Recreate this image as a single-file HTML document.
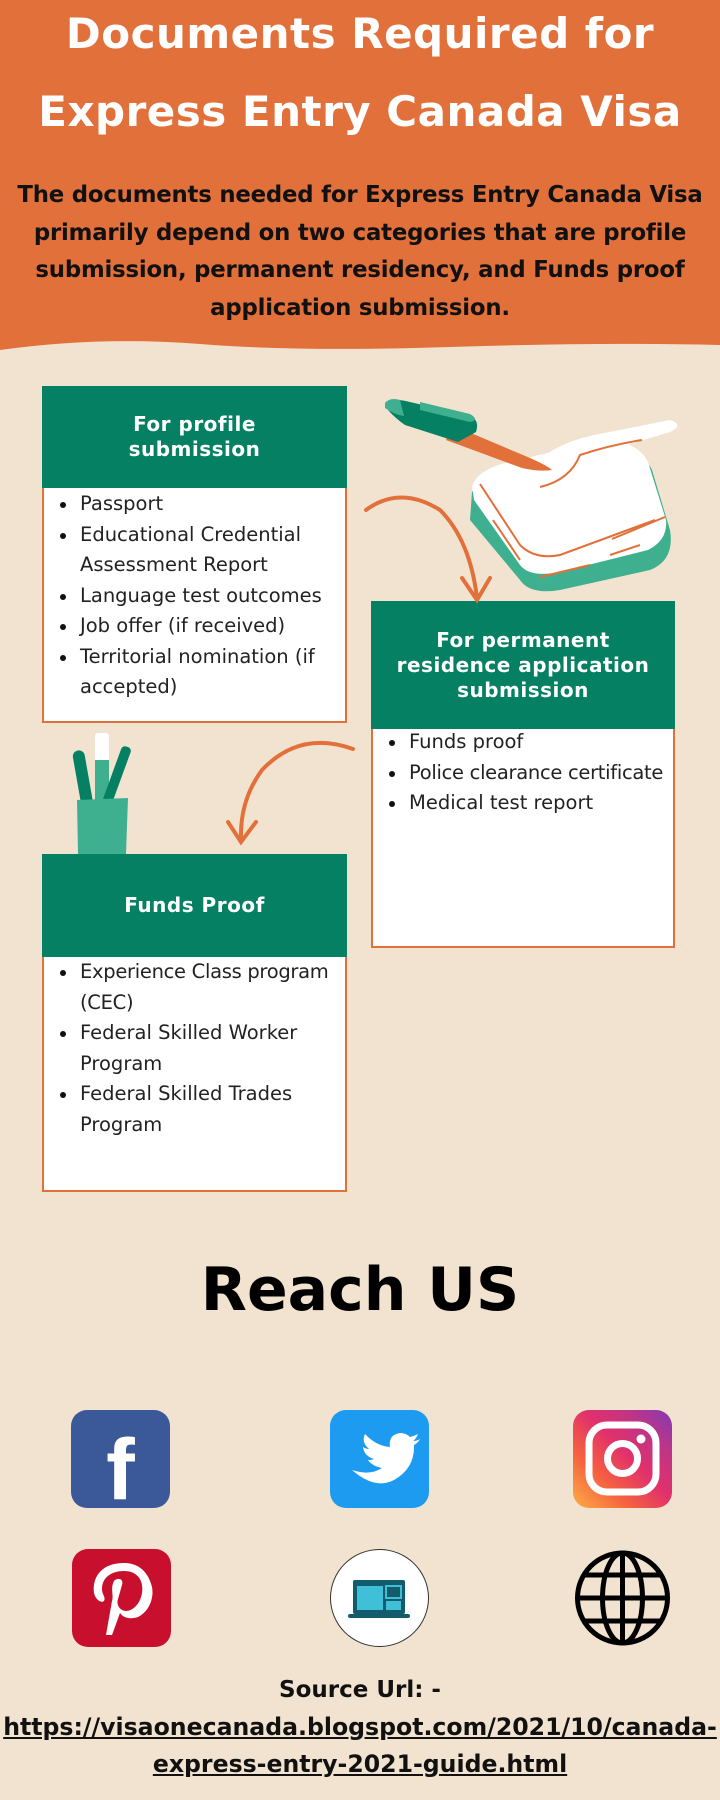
<!DOCTYPE html>
<html><head><meta charset="utf-8"><style>
*{margin:0;padding:0;box-sizing:border-box}
body{width:720px;height:1800px;background:#f1e3cf;position:relative;overflow:hidden;font-family:"DejaVu Sans","Liberation Sans",sans-serif}
.abs{position:absolute}
.title{left:0;width:720px;text-align:center;color:#fff;font-family:"DejaVu Sans",sans-serif;font-weight:bold;font-size:42px;white-space:nowrap;letter-spacing:0.5px}
.para{left:0;width:720px;text-align:center;color:#111;font-weight:bold;font-size:22.8px;white-space:nowrap;line-height:37.5px;letter-spacing:-0.2px}
.box{background:#fff;border:2px solid #e2703a}
.hd{position:absolute;left:-2px;right:-2px;top:-2px;background:#058063;color:#fff;font-weight:bold;font-size:20px;text-align:center;line-height:25px;display:flex;flex-direction:column;justify-content:center;letter-spacing:0.5px}
ul{position:absolute;list-style:none;font-size:19.5px;color:#222;line-height:30.5px}
li{position:relative;padding-left:0}
li:before{content:"";position:absolute;left:-20px;top:13px;width:6px;height:6px;border-radius:50%;background:#111}
.icon{position:absolute;width:99px;height:98px;border-radius:16px}
.src{left:0;width:720px;text-align:center;font-weight:bold;font-size:23px;color:#111;white-space:nowrap}
</style></head><body>
<svg class="abs" style="left:0;top:0" width="720" height="352"><path d="M0 0H720V345 Q600 342 450 347 T200 344 T0 350Z" fill="#e2703a"/></svg>
<div class="abs title" style="top:9px">Documents Required for</div>
<div class="abs title" style="top:87px">Express Entry Canada Visa</div>
<div class="abs para" style="top:177px">The documents needed for Express Entry Canada Visa<br>primarily depend on two categories that are profile<br>submission, permanent residency, and Funds proof<br>application submission.</div>

<div class="abs box" style="left:42px;top:386px;width:305px;height:337px">
 <div class="hd" style="height:102px">For profile<br>submission</div>
 <ul style="left:36px;top:101px;width:265px"><li>Passport</li><li>Educational Credential Assessment Report</li><li>Language test outcomes</li><li>Job offer (if received)</li><li>Territorial nomination (if accepted)</li></ul>
</div>

<div class="abs box" style="left:371px;top:601px;width:304px;height:347px">
 <div class="hd" style="height:128px">For permanent<br>residence application<br>submission</div>
 <ul style="left:36px;top:124px;width:270px;line-height:30.5px"><li>Funds proof</li><li style="white-space:nowrap;letter-spacing:-0.3px">Police clearance certificate</li><li>Medical test report</li></ul>
</div>

<div class="abs box" style="left:42px;top:854px;width:305px;height:338px">
 <div class="hd" style="height:103px">Funds Proof</div>
 <ul style="left:36px;top:101px;width:268px"><li style="letter-spacing:-0.3px">Experience Class program (CEC)</li><li>Federal Skilled Worker Program</li><li>Federal Skilled Trades Program</li></ul>
</div>

<svg class="abs" style="left:0;top:0" width="720" height="1000">
 <path d="M472 492 Q480 480 510 470 L600 450 Q640 445 652 470 L670 530 Q675 560 650 570 L560 590 Q530 595 520 580 L470 520 Z" fill="#3fb08f"/>
 <path d="M472 486 Q478 470 505 463 L595 442 Q635 437 648 462 L666 520 Q668 540 648 550 L560 572 Q530 578 520 565 L474 500 Z" fill="#fff"/>
 <path d="M480 484 L520 545 Q535 560 560 555 L655 520 M612 539 L665 517 M610 555 L640 545 M493 520 L520 560 M540 577 L590 565" stroke="#e2703a" stroke-width="2" fill="none"/>
 <path d="M540 460 Q560 440 610 432 L670 420 Q685 425 670 432 L610 450 Q580 465 555 470 Z" fill="#fff"/>
 <path d="M540 487 Q570 480 580 455 Q610 445 642 440" stroke="#e2703a" stroke-width="2" fill="none"/>
 <path d="M452 425 L530 458 Q548 466 552 470 Q540 472 522 468 L446 440 Z" fill="#e2703a"/>
 <path d="M388 402 Q395 398 410 402 L470 416 Q480 420 476 432 L458 442 L405 425 Q395 418 388 410 Z" fill="#058063"/>
 <path d="M420 402 L470 414 Q480 420 470 422 L420 410 Z" fill="#3fb08f"/>
 <path d="M385 403 Q390 397 400 400 L404 416 Q395 415 385 408Z" fill="#3fb08f"/>
 <path d="M366 510 Q400 485 440 510 Q470 540 477 598" stroke="#e2703a" stroke-width="4" fill="none" stroke-linecap="round"/>
 <path d="M462 578 L477 600 L490 578" stroke="#e2703a" stroke-width="4" fill="none" stroke-linecap="round"/>
 <path d="M353 749 Q300 730 262 770 Q240 800 241 838" stroke="#e2703a" stroke-width="4" fill="none" stroke-linecap="round"/>
 <path d="M228 822 L241 842 L256 822" stroke="#e2703a" stroke-width="4" fill="none" stroke-linecap="round"/>
 <rect x="77" y="750" width="12" height="60" rx="6" fill="#058063" transform="rotate(-10 83 780)"/>
 <rect x="95" y="733" width="14" height="75" rx="3" fill="#fff"/>
 <rect x="95" y="760" width="14" height="48" fill="#3fb08f"/>
 <rect x="112" y="745" width="10" height="60" rx="4" fill="#058063" transform="rotate(20 117 775)"/>
 <path d="M77 800 L128 798 L126 854 L78 854Z" fill="#3fb08f"/>
</svg>

<div class="abs" style="left:0;width:720px;top:1255px;text-align:center;font-weight:bold;font-size:60px;color:#000;font-family:'DejaVu Sans',sans-serif">Reach US</div>

<div class="icon" style="left:71px;top:1410px;background:#3b5998;color:#fff;font:bold 86px 'Liberation Sans',sans-serif;text-align:center;line-height:120px;overflow:hidden">f</div>
<div class="icon" style="left:330px;top:1410px;background:#1d9bf0">
 <svg width="99" height="98"><path d="M22 60 Q40 66 52 58 Q42 56 38 50 Q42 50 44 49 Q34 46 33 37 Q36 39 39 39 Q31 32 35 24 Q46 36 60 37 Q58 25 70 23 Q76 23 80 27 Q84 26 88 24 Q86 29 83 31 Q87 31 90 29 Q88 33 84 35 Q85 58 64 70 Q45 80 22 60Z" fill="#fff"/></svg></div>
<div class="icon" style="left:573px;top:1410px;background:linear-gradient(45deg,#fcaf45 0%,#f56040 30%,#e1306c 55%,#c13584 75%,#833ab4 100%)">
 <svg width="99" height="98"><rect x="16" y="15" width="67" height="67" rx="18" stroke="#fff" stroke-width="7" fill="none"/><circle cx="49.5" cy="48.5" r="15" stroke="#fff" stroke-width="7" fill="none"/><circle cx="68" cy="29" r="4.5" fill="#fff"/></svg></div>
<div class="icon" style="left:72px;top:1549px;background:#c8102e">
 <svg width="99" height="98"><path d="M52 14 C28 14 20 30 22 44 C24 52 30 54 32 52 C34 48 30 46 30 40 C30 28 40 22 52 22 C64 22 72 30 70 44 C68 56 60 62 54 62 C48 62 44 56 46 50 L50 36 C52 30 46 28 42 32 C38 40 42 46 40 52 L34 86 L40 86 L48 64 C52 70 60 70 66 68 C78 62 82 48 80 38 C76 22 66 14 52 14Z" fill="#fff"/></svg></div>
<div class="abs" style="left:330px;top:1549px;width:99px;height:98px;border-radius:50%;background:#fff;border:1.5px solid #333">
 <svg width="96" height="95"><rect x="22" y="30" width="52" height="34" rx="2" fill="#135c6b"/><rect x="26" y="36" width="26" height="24" fill="#3fc0d8"/><rect x="55" y="36" width="15" height="12" fill="#135c6b" stroke="#3fc0d8" stroke-width="2"/><rect x="55" y="51" width="15" height="9" fill="#3fc0d8"/><rect x="17" y="64" width="62" height="4" rx="2" fill="#135c6b"/></svg></div>
<div class="abs" style="left:573px;top:1549px;width:99px;height:98px">
 <svg width="99" height="98" fill="none" stroke="#000" stroke-width="5"><circle cx="49.5" cy="49" r="45"/><ellipse cx="49.5" cy="49" rx="20" ry="45"/><line x1="49.5" y1="4" x2="49.5" y2="94"/><line x1="5" y1="49" x2="94" y2="49"/><path d="M12 26 H87 M12 72 H87"/></svg></div>

<div class="abs src" style="top:1677px">Source Url: -</div>
<div class="abs src" style="top:1713px;text-decoration:underline;font-size:23.6px">https://visaonecanada.blogspot.com/2021/10/canada-</div>
<div class="abs src" style="top:1750px;text-decoration:underline;font-size:23.6px">express-entry-2021-guide.html</div>
</body></html>
